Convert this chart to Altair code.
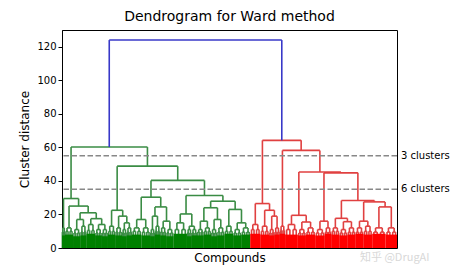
import altair as alt
import pandas as pd

# ---- data: leaf clumps (bottom-level clusters), left to right ----
clump_width = [9, 24, 22, 18, 26, 20, 18, 22, 20, 14, 16, 28, 26, 14, 16, 18, 22, 40,
               14, 16, 20, 22, 18, 22, 26, 24, 27,
               30, 26, 16, 16, 16, 38, 24, 28, 28, 20, 24, 24, 24, 24, 26, 40, 34]
clump_top = [12, 12, 11, 13, 14, 11, 11, 13, 12, 11, 12, 12, 12, 11, 13, 12, 11, 15,
             11, 11, 11, 12, 11, 12, 13, 11, 12,
             14, 13, 11, 12, 13, 14, 11, 12, 11, 12, 12, 11, 12, 12, 13, 12, 12]
clump_sub = [9.5, 10, 9, 9.5, 10.5, 9, 9, 10, 9.5, 9, 9.5, 10, 9.5, 9, 10, 9.5, 9, 11,
             9, 9, 9.5, 10, 9, 9.5, 10, 9, 9.5,
             11, 10, 9, 9.5, 10.5, 11, 9, 9.5, 9, 9.5, 10, 9, 9.5, 9.5, 10, 9.5, 9.5]
clump_band = [7.5, 8, 7, 7.5, 8.5, 7.5, 7, 8, 7.5, 7, 7.5, 8, 7.5, 7, 8, 7.5, 7, 8.5,
              7, 7.5, 7.5, 8, 7, 7.5, 8.5, 7.5, 8,
              8.5, 8, 7.5, 8, 8.5, 8, 7.5, 8, 7.5, 8.5, 8, 7.5, 8, 8.5, 8, 8.5, 8]
clump_group = ["g"] * 27 + ["r"] * 17

# ---- merges: (name, left, right, height, colour) ----
merges = [
    ("g1", "c2", "c3", 17, "g"), ("g2", "c5", "c6", 14, "g"),
    ("g3", "c4", "g2", 17.5, "g"), ("g4", "g1", "g3", 21, "g"),
    ("g5", "c1", "g4", 25, "g"), ("g6", "c0", "g5", 29.5, "g"),
    ("g7", "c9", "c10", 15, "g"), ("g8", "c8", "g7", 19, "g"),
    ("g9", "c7", "g8", 22.5, "g"), ("g10", "c11", "c12", 17, "g"),
    ("g11", "c13", "c14", 19, "g"), ("g12", "c15", "c16", 16, "g"),
    ("g13", "g11", "g12", 24.5, "g"), ("g14", "g10", "g13", 30.3, "g"),
    ("g15", "c18", "c19", 13, "g"), ("g16", "c17", "g15", 20.3, "g"),
    ("g17", "c20", "c21", 16, "g"), ("g18", "c22", "c23", 17, "g"),
    ("g19", "g17", "g18", 24, "g"), ("g20", "c25", "c26", 15, "g"),
    ("g21", "c24", "g20", 23, "g"), ("g22", "g19", "g21", 27.9, "g"),
    ("g23", "g16", "g22", 31.3, "g"), ("g24", "g14", "g23", 40.3, "g"),
    ("g25", "g9", "g24", 48.8, "g"), ("g26", "g6", "g25", 60.2, "g"),
    ("r1", "c29", "c30", 19, "r"), ("r2", "c28", "r1", 22.5, "r"),
    ("r3", "c27", "r2", 26.5, "r"), ("r4", "c33", "c34", 15.5, "r"),
    ("r5", "c32", "r4", 19.5, "r"), ("r6", "c35", "c36", 16, "r"),
    ("r7", "c38", "c39", 15.7, "r"), ("r8", "c37", "r7", 17.7, "r"),
    ("r9", "c40", "c41", 16, "r"), ("r10", "c42", "c43", 24.5, "r"),
    ("r11", "r9", "r10", 27.5, "r"), ("r12", "r8", "r11", 28.3, "r"),
    ("r13", "r6", "r12", 44.8, "r"), ("r14", "r5", "r13", 45.3, "r"),
    ("r15", "c31", "r14", 58.2, "r"), ("r16", "r3", "r15", 64.2, "r"),
    ("top", "g26", "r16", 124, "b"),
]

cut_values = [55, 35]
cut_labels = ["3 clusters", "6 clusters"]

# ---- layout (dendrogram positions) ----
pos, hgt = {}, {}
segs, bands = [], []
start = 0
for i, (w, t, s, b, g) in enumerate(zip(clump_width, clump_top, clump_sub, clump_band, clump_group)):
    cx = start + w / 2
    pos[f"c{i}"] = cx
    hgt[f"c{i}"] = t
    l, r = cx - w / 4, cx + w / 4
    segs += [(l, l, s, t, g), (l, r, t, t, g), (r, r, t, s, g)]
    for p in (l, r):
        a, z = p - w / 8, p + w / 8
        segs += [(a, a, 0, s, g), (a, z, s, s, g), (z, z, s, 0, g)]
    bands.append((start, start + w, 0, b, g + "b"))
    start += w

for name, a, bnode, h, c in merges:
    xl, xr = pos[a], pos[bnode]
    segs += [(xl, xl, hgt[a], h, c), (xl, xr, h, h, c), (xr, xr, h, hgt[bnode], c)]
    pos[name] = (xl + xr) / 2
    hgt[name] = h

seg_df = pd.DataFrame(segs, columns=["x", "x2", "y", "y2", "c"])
band_df = pd.DataFrame(bands, columns=["x", "x2", "y", "y2", "c"])
cut_df = pd.DataFrame({"y": cut_values, "label": cut_labels})

xs = alt.Scale(domain=[0, 1000], nice=False, zero=False)
ys = alt.Scale(domain=[0, 130], nice=False)
cs = alt.Scale(domain=["g", "r", "b", "gb", "rb"],
               range=["#3a8c44", "#e04040", "#3838c8", "#008000", "#ff0000"])

xax = alt.Axis(title="Compounds", labels=False, ticks=False, domain=False, grid=False,
               titlePadding=4, titleFontSize=12)
yax = alt.Axis(title="Cluster distance", values=[0, 20, 40, 60, 80, 100, 120], grid=False,
               tickSize=4, labelFontSize=10, titleFontSize=12, titlePadding=5,
               domainColor="black", tickColor="black", labelColor="black")

links = alt.Chart(seg_df).mark_rule(strokeWidth=1.6).encode(
    x=alt.X("x:Q", scale=xs, axis=xax), x2="x2", y=alt.Y("y:Q", scale=ys, axis=yax), y2="y2",
    color=alt.Color("c:N", scale=cs, legend=None))

bands_layer = alt.Chart(band_df).mark_rect().encode(
    x=alt.X("x:Q", scale=xs, axis=xax), x2="x2", y=alt.Y("y:Q", scale=ys, axis=yax), y2="y2",
    color=alt.Color("c:N", scale=cs, legend=None))

cuts = alt.Chart(cut_df).mark_rule(color="#888888", strokeWidth=1.5, strokeDash=[5.5, 2.5]).encode(
    y=alt.Y("y:Q", scale=ys, axis=yax))

cut_text = alt.Chart(cut_df).mark_text(align="left", baseline="middle", fontSize=10,
                                        font="DejaVu Sans", color="black").encode(
    x=alt.value(339), y=alt.Y("y:Q", scale=ys, axis=yax), text="label:N")

mark_wm = alt.Chart(pd.DataFrame({"t": ["知乎 @DrugAI"]})).mark_text(
    align="left", baseline="middle", fontSize=11, font="Noto Sans CJK SC", color="#d8d8d8").encode(
    x=alt.value(298), y=alt.value(228), text="t:N")

chart = alt.layer(links, bands_layer, cuts, cut_text, mark_wm).properties(
    width=335, height=218,
    title=alt.Title("Dendrogram for Ward method", fontSize=14, fontWeight="normal",
                    font="DejaVu Sans", offset=6, color="black"),
    autosize=alt.AutoSizeParams(type="none"),
    padding={"left": 62, "top": 30, "right": 61, "bottom": 30},
    background="white",
).configure_view(stroke="black", strokeWidth=1).configure_axis(
    labelFont="DejaVu Sans", titleFont="DejaVu Sans", titleFontWeight="normal", titleColor="black"
)

chart.save("out.html", embed_options={"renderer": "svg", "actions": False})
